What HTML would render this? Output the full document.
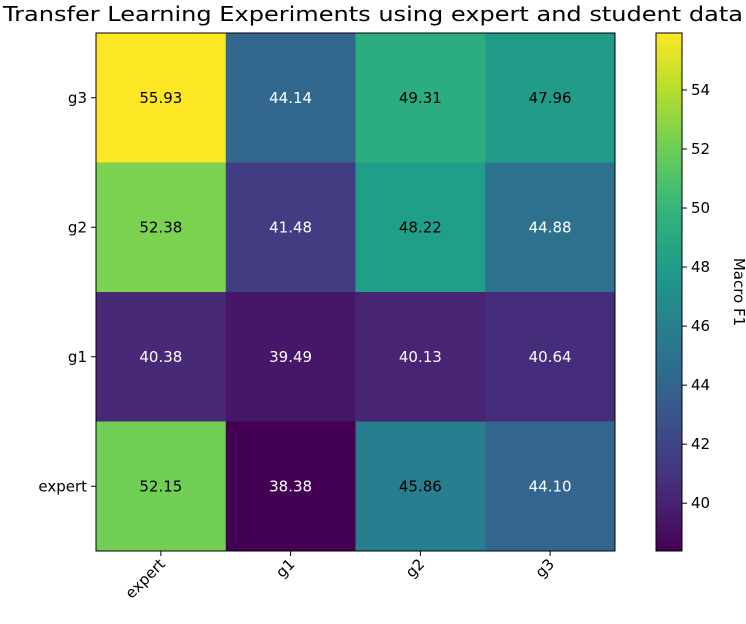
<!DOCTYPE html>
<html><head><meta charset="utf-8"><style>
body{margin:0;background:#fff;font-family:"DejaVu Sans","Liberation Sans",sans-serif;}
</style></head><body>
<svg id="chart" width="746" height="620" xmlns="http://www.w3.org/2000/svg" font-family="DejaVu Sans, Liberation Sans, sans-serif">
<text x="373" y="21" text-anchor="middle" font-size="20" textLength="740" lengthAdjust="spacingAndGlyphs" fill="#000">Transfer Learning Experiments using expert and student data</text>
<g id="cells"></g>
<g id="axes"></g>
</svg>
<script>
const xCategories = ["expert","g1","g2","g3"];
const yCategories = ["g3","g2","g1","expert"];
const values = [
 [55.93,44.14,49.31,47.96],
 [52.38,41.48,48.22,44.88],
 [40.38,39.49,40.13,40.64],
 [52.15,38.38,45.86,44.10]
];
const cbTicks = [40,42,44,46,48,50,52,54];

const vir=[[68,1,84],[72,40,120],[62,74,137],[49,104,142],[38,130,142],[31,158,137],[53,183,121],[110,206,88],[181,222,43],[253,231,37]];
function cmap(t){t=Math.max(0,Math.min(1,t));const p=t*(vir.length-1),i=Math.min(Math.floor(p),vir.length-2),f=p-i;
 const c=vir[i].map((a,k)=>Math.round(a+(vir[i+1][k]-a)*f));return `rgb(${c})`;}
const NS="http://www.w3.org/2000/svg";
function mk(tag,attrs,parent,text){const e=document.createElementNS(NS,tag);for(const k in attrs)e.setAttribute(k,attrs[k]);if(text!==undefined)e.textContent=text;parent.appendChild(e);return e;}
const L=96,R=615,T=33,B=551;
const cw=(R-L)/xCategories.length, ch=(B-T)/yCategories.length;
const all=values.flat(), vmin=Math.min(...all), vmax=Math.max(...all);
const xs=i=>L+i*cw, ys=j=>T+j*ch;
const cells=document.getElementById('cells'), axes=document.getElementById('axes');
values.forEach((row,j)=>row.forEach((v,i)=>{
 const r=mk('rect',{x:xs(i),y:ys(j),width:cw+0.5,height:ch+0.5,fill:cmap((v-vmin)/(vmax-vmin))},cells);
 
 
 const t=mk('text',{x:xs(i)+cw/2,y:ys(j)+ch/2+5,'text-anchor':'middle','font-size':15,fill:v<45.5?'#fff':'#000'},cells,v.toFixed(2));
 
 
}));
const fr=mk('rect',{x:L,y:T,width:R-L,height:B-T,fill:'none',stroke:'#000','stroke-width':1},axes);


xCategories.forEach((c,i)=>{
 const x=xs(i)+cw/2;
 mk('line',{x1:x,x2:x,y1:B,y2:B+5,stroke:'#000'},axes);
 const t=mk('text',{transform:`translate(${x+5},${B+14}) rotate(-45)`,'text-anchor':'end','font-size':15},axes,c);
 
 
});
yCategories.forEach((c,j)=>{
 const y=ys(j)+ch/2;
 mk('line',{x1:L-5,x2:L,y1:y,y2:y,stroke:'#000'},axes);
 const t=mk('text',{x:L-9,y:y+5,'text-anchor':'end','font-size':15},axes,c);
 
 
});
const CL=656,CR=682;
const cy=v=>B-(v-vmin)/(vmax-vmin)*(B-T);
const grad=mk('defs',{},axes);
const lg=mk('linearGradient',{id:'cbg',x1:0,y1:1,x2:0,y2:0},grad);
for(let k=0;k<=20;k++)mk('stop',{offset:k/20,'stop-color':cmap(k/20)},lg);
const cb=mk('rect',{x:CL,y:T,width:CR-CL,height:B-T,fill:'url(#cbg)',stroke:'#000'},axes);


cbTicks.forEach(v=>{
 const y=cy(v);
 mk('line',{x1:CR,x2:CR+5,y1:y,y2:y,stroke:'#000'},axes);
 const t=mk('text',{x:CR+9,y:y+5,'font-size':15},axes,String(v));
 
 
});
const ct=mk('text',{transform:`translate(734,292) rotate(90)`,'text-anchor':'middle','font-size':15},axes,'Macro F1');


</script>
</body></html>
